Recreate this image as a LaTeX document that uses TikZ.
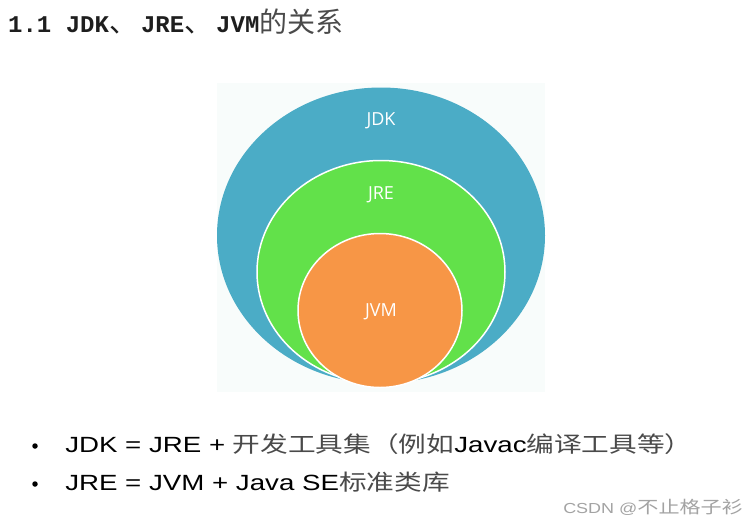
\documentclass[tikz,border=0pt]{standalone}
\usepackage{fontspec}
\setmainfont{Liberation Sans}
\newfontfamily\cjk{Noto Sans CJK SC}
\newfontfamily\monob{Liberation Mono}
\newfontfamily\lbl{Open Sans}
\usetikzlibrary{shapes.geometric}
\definecolor{jdkblue}{HTML}{4BACC6}
\definecolor{jregreen}{HTML}{62E14A}
\definecolor{jvmorange}{HTML}{F79646}
\definecolor{panelbg}{HTML}{F8FCFB}
\definecolor{titlec}{HTML}{1E1E1E}
\definecolor{cjkgray}{HTML}{4A4A4A}
\definecolor{wmgray}{HTML}{A3A3A3}
\newcommand{\tcjk}[1]{{\cjk\mdseries\fontsize{28}{30}\selectfont #1}}
\tikzset{
  ring/.style={ellipse, inner sep=0pt, outer sep=0pt},
  ringlabel/.style={text=white, font=\lbl\fontsize{18}{20}\selectfont, inner sep=0pt, anchor=center},
  bodytext/.style={anchor=base west, inner sep=0pt, font=\fontsize{22}{26}\selectfont, text=black, xscale=1.258, transform shape},
  dot/.style={circle, fill=black, inner sep=0pt, minimum size=5.5pt}
}
\begin{document}
\begin{tikzpicture}[x=1pt,y=-1pt]
\useasboundingbox (0,0) rectangle (748,531);
\fill[white] (0,0) rectangle (748,531);
% title
\node[anchor=base west, inner sep=0pt, text=titlec] (title) at (8,32)
  {\monob\bfseries\fontsize{24}{28}\selectfont 1.1 JDK\tcjk{、}\hspace{4pt}JRE\tcjk{、}\hspace{4pt}JVM\tcjk{\color{cjkgray}的关系}};
% panel
\fill[panelbg] (217,83) rectangle (545,392);
% rings
\node[ring, fill=jdkblue, minimum width=328pt, minimum height=296pt] (jdk) at (381,235.5) {};
\node[ring, fill=jregreen, draw=white, line width=1.5pt, minimum width=248pt, minimum height=223pt] (jre) at (381,272) {};
\node[ring, fill=jvmorange, draw=white, line width=1.5pt, minimum width=164pt, minimum height=154pt] (jvm) at (380,310.5) {};
\node[ringlabel] (ljdk) at (381,120.5) {JDK};
\node[ringlabel] (ljre) at (381,195) {JRE};
\node[ringlabel] (ljvm) at (381,312) {JVM};
% bullets
\node[dot] (d1) at (35,446) {};
\node[dot] (d2) at (35,484) {};
\node[bodytext] (t1) at (65,452) {JDK = JRE + {\cjk\color{cjkgray}开发工具集（例如}Javac{\cjk\color{cjkgray}编译工具等）}};
\node[bodytext] (t2) at (65,490) {JRE = JVM + Java SE{\cjk\color{cjkgray}标准类库}};
% watermark
\node[anchor=base west, inner sep=0pt, text=wmgray, font=\fontsize{14.5}{16}\selectfont, xscale=1.24, transform shape] (wm) at (563,513) {CSDN @{\cjk\fontsize{17}{18}\selectfont 不止格子衫}};
\end{tikzpicture}
\end{document}
